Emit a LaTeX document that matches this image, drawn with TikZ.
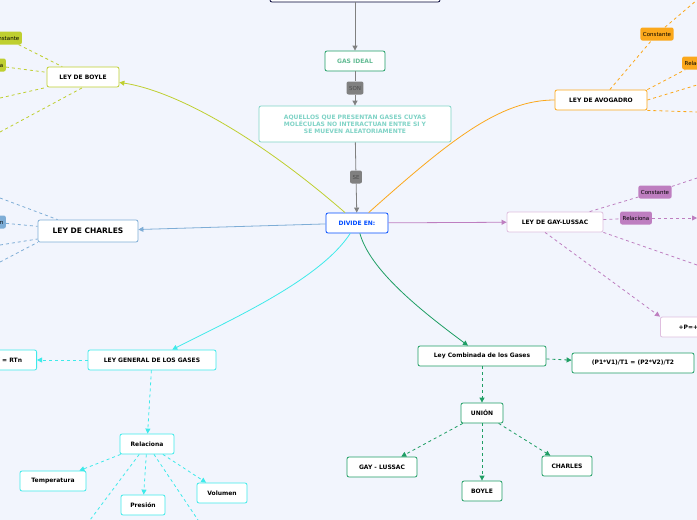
\documentclass[tikz,border=0pt]{standalone}
\usepackage{fontspec}
\setmainfont{DejaVu Sans}
\usetikzlibrary{positioning,arrows.meta}
\definecolor{bg}{HTML}{F2F5FD}
\definecolor{cboyle}{HTML}{BFCF30}
\definecolor{ccharles}{HTML}{7EADD6}
\definecolor{cavo}{HTML}{FBA81B}
\definecolor{cgay}{HTML}{BE7EC0}
\definecolor{cgen}{HTML}{3EEAEA}
\definecolor{ccomb}{HTML}{1F9E64}
\definecolor{cteal}{HTML}{7FD3C6}
\tikzset{
  box/.style={draw,rounded corners=2pt,fill=white,font=\fontsize{6}{7}\selectfont\bfseries,inner sep=3pt,minimum height=20pt,line width=0.8pt},
  tag/.style={rounded corners=2pt,font=\fontsize{5.5}{6.5}\selectfont,inner sep=2.5pt,minimum height=13pt},
  link/.style={-{Triangle[length=5pt,width=5pt]},line width=0.8pt},
  dlink/.style={link,dashed,dash pattern=on 3pt off 3pt},
  dline/.style={line width=0.8pt,dash pattern=on 3pt off 3pt}
}
\begin{document}
\begin{tikzpicture}[x=1pt,y=-1pt]
  \useasboundingbox[fill=bg] (0,0) rectangle (697,520);
  \clip (0,0) rectangle (697,520);
  % centre
  \node[box,draw=black!80!blue,minimum width=170pt] (top) at (355,-8) {};
  \node[box,draw=ccomb,text=ccomb!70,minimum width=60pt] (gas) at (355,61) {GAS IDEAL};
  \node[tag,fill=gray,text=black!70] (son) at (355,88) {SON};
  \node[box,draw=cteal,text=cteal,minimum width=192pt,minimum height=36pt,align=center] (aq) at (355,124)
    {AQUELLOS QUE PRESENTAN GASES CUYAS\\MOLÉCULAS NO INTERACTUAN ENTRE SI Y\\SE MUEVEN ALEATORIAMENTE};
  \node[tag,fill=gray,text=black!70] (se) at (356,177) {SE};
  \node[box,draw=blue!70!cyan,text=blue!70!cyan,minimum width=62pt] (div) at (357,223) {DIVIDE EN:};
  \draw[link,gray] (top) -- (gas);
  \draw[link,gray] (gas) -- (son) -- (aq);
  \draw[link,gray] (aq) -- (se) -- (div);
  % leyes
  \node[box,draw=cboyle,minimum width=72pt] (boyle) at (83,77) {LEY DE BOYLE};
  \node[box,draw=ccharles,minimum width=100pt,minimum height=22pt,font=\fontsize{7.5}{8.5}\selectfont\bfseries] (charles) at (88,231) {LEY DE CHARLES};
  \node[box,draw=cavo,minimum width=92pt] (avo) at (601,100) {LEY DE AVOGADRO};
  \node[box,draw=cgay!50,minimum width=96pt] (gay) at (555,222) {LEY DE GAY-LUSSAC};
  \node[box,draw=cgen,minimum width=128pt] (gen) at (152,360) {LEY GENERAL DE LOS GASES};
  \node[box,draw=ccomb,minimum width=128pt] (comb) at (482,356) {Ley Combinada de los Gases};
  \draw[link,cboyle] (div) .. controls (250,130) and (170,90) .. (boyle);
  \draw[link,ccharles] (div) -- (charles);
  \draw[cavo,line width=0.8pt] (div) .. controls (450,140) and (500,100) .. (avo);
  \draw[link,cgay] (div) -- (gay);
  \draw[link,cgen] (div) .. controls (320,280) and (230,320) .. (gen);
  \draw[link,ccomb] (div) .. controls (370,270) and (420,310) .. (comb);
  % boyle
  \node[tag,fill=cboyle,anchor=east] (b1) at (22,38) {Constante};
  \node[tag,fill=cboyle,anchor=east] (b2) at (6,65) {Relaciona};
  \coordinate (b3) at (0,98);
  \coordinate (b4) at (0,132);
  \draw[dline,cboyle] (b1) -- (boyle) (b2) -- (boyle) (b3) -- (boyle.south west) (b4) -- (boyle.south);
  % charles
  \node[tag,fill=ccharles,anchor=east] (c1) at (6,222) {Volumen};
  \coordinate (c0) at (0,198);
  \coordinate (c2) at (0,245);
  \coordinate (c3) at (0,262);
  \draw[dline,ccharles] (c0) -- (charles) (c1) -- (charles) (c2) -- (charles) (c3) -- (charles.south west);
  % avogadro
  \node[tag,fill=cavo] (a1) at (657,34) {Constante};
  \node[tag,fill=cavo,anchor=west] (a2) at (682,63) {Relaciona};
  \coordinate (a0) at (697,0);
  \coordinate (a3) at (697,85);
  \coordinate (a4) at (697,112);
  \draw[dline,cavo] (avo) -- (a1) -- (a0) (avo.north east) -- (a2) (avo.east) -- (a3) (avo.south east) -- (a4);
  % gay-lussac
  \node[tag,fill=cgay] (g1) at (655,192) {Constante};
  \node[tag,fill=cgay] (g2) at (636,218) {Relaciona};
  \node[box,draw=cgay!50,minimum width=60pt,anchor=west] (g3) at (660,327) {+P=+T};
  \coordinate (g0) at (697,178);
  \coordinate (g4) at (697,218);
  \coordinate (g5) at (697,265);
  \draw[dline,cgay] (gay) -- (g1) -- (g0) (gay) -- (g2) (gay.south east) -- (g5);
  \draw[dlink,cgay] (g2) -- (g4);
  \draw[dlink,cgay] (gay.south) ++(-10,0) -- (g3.north west);
  % general
  \node[box,draw=cgen,minimum width=60pt,anchor=east] (rtn) at (37,360) {PV = RTn};
  \node[box,draw=cgen,minimum width=54pt] (rel) at (147,444) {Relaciona};
  \node[box,draw=cgen,minimum width=66pt] (temp) at (53,481) {Temperatura};
  \node[box,draw=cgen,minimum width=44pt] (pres) at (143,505) {Presión};
  \node[box,draw=cgen,minimum width=50pt] (vol) at (222,493) {Volumen};
  \coordinate (r1) at (90,520);
  \coordinate (r2) at (198,520);
  \draw[dlink,cgen] (gen) -- (rtn);
  \draw[dlink,cgen] (gen) -- (rel);
  \draw[dlink,cgen] (rel) -- (temp);
  \draw[dlink,cgen] (rel) -- (pres);
  \draw[dlink,cgen] (rel) -- (vol);
  \draw[dline,cgen] (rel) -- (r1) (rel) -- (r2);
  % combinada
  \node[box,draw=ccomb,minimum width=122pt] (form) at (633,363) {(P1*V1)/T1 = (P2*V2)/T2};
  \node[box,draw=ccomb,minimum width=42pt] (union) at (482,413) {UNIÓN};
  \node[box,draw=ccomb,minimum width=70pt] (gl) at (382,467) {GAY - LUSSAC};
  \node[box,draw=ccomb,minimum width=40pt] (by) at (482,491) {BOYLE};
  \node[box,draw=ccomb,minimum width=50pt] (ch) at (567,466) {CHARLES};
  \draw[dlink,ccomb] (comb) -- (form);
  \draw[dlink,ccomb] (comb) -- (union);
  \draw[dlink,ccomb] (union) -- (gl);
  \draw[dlink,ccomb] (union) -- (by);
  \draw[dlink,ccomb] (union) -- (ch);
\end{tikzpicture}
\end{document}
